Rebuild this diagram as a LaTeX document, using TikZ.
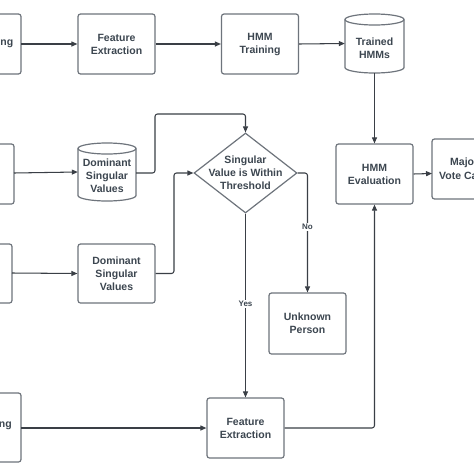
\documentclass[tikz,border=0pt]{standalone}
\usepackage{fontspec}
\setmainfont{Liberation Sans}
\usetikzlibrary{arrows.meta,shapes.geometric}
\definecolor{boxc}{HTML}{6E747C}
\definecolor{txtc}{HTML}{3C4650}
\definecolor{linec}{HTML}{3A3F46}
\tikzset{
  box/.style={draw=boxc, line width=1.2pt, rounded corners=2.5pt, minimum width=77pt, minimum height=60pt, inner sep=0pt, align=center, text=txtc, font=\fontsize{10.5}{13}\selectfont\bfseries},
  lbl/.style={text=txtc, font=\fontsize{10.5}{13}\selectfont\bfseries, align=center, inner sep=0pt},
  small/.style={text=txtc, font=\fontsize{8}{9}\selectfont\bfseries, fill=white, inner sep=1pt},
  conn/.style={draw=linec, line width=1.05pt, rounded corners=2.5pt, -{Triangle[length=6pt,width=5pt]}},
  cyl/.style={draw=boxc, line width=1.2pt},
  diam/.style={draw=boxc, line width=1.2pt, diamond, shape aspect=1.2875, minimum width=103pt, minimum height=80pt, inner sep=0pt},
}
\begin{document}
\begin{tikzpicture}[x=1pt,y=-1pt]
\clip (0,0) rectangle (474,474);
\fill[white] (0,0) rectangle (474,474);
% partial left boxes
\draw[box] (-60,14) rectangle (21,74);
\node[lbl, anchor=east] (t1) at (13.5,44) {ng};
\coordinate (l1) at (21,44);
\draw[box] (-60,144) rectangle (14,204);
\coordinate (l2) at (14,173);
\draw[box] (-60,244) rectangle (12,303);
\coordinate (l3) at (12,273);
\draw[box] (-60,393) rectangle (21,462);
\node[lbl, anchor=east] (t4) at (12,426) {ng};
\coordinate (l4) at (21,428);
% majority partial box
\draw[box] (432,139) rectangle (520,199);
\node[lbl, anchor=west] (maj1) at (450,163) {Majo};
\node[lbl, anchor=west] (maj2) at (439,176) {Vote Ca};
\coordinate (maj) at (432,173.5);
% boxes
\node[box] (fe1) at (116.5,44) {Feature\\Extraction};
\node[box] (hmmt) at (260,44) {HMM\\Training};
\node[box] (hmme) at (374.5,174) {HMM\\Evaluation};
\node[box, minimum height=59pt] (dsv2) at (116.5,273.5) {Dominant\\Singular\\Values};
\node[box, minimum height=61pt] (unk) at (307.5,323.5) {Unknown\\Person};
\node[box] (fe2) at (245.5,428) {Feature\\Extraction};
% cylinders
\node[minimum width=59pt, minimum height=59pt, inner sep=0pt] (thmm) at (374.5,43.5) {};
\draw[cyl] (345,19.5) -- (345,67.5) arc[start angle=180, end angle=360, x radius=29.5, y radius=-5.5] -- (404,19.5);
\draw[cyl] (374.5,19.5) ellipse[x radius=29.5, y radius=5.5];
\node[lbl] (thmmt) at (374.5,48.5) {Trained\\HMMs};
\node[minimum width=58pt, minimum height=58pt, inner sep=0pt] (dsv1) at (107,172) {};
\draw[cyl] (78,148.5) -- (78,195.5) arc[start angle=180, end angle=360, x radius=29, y radius=-5.5] -- (136,148.5);
\draw[cyl] (107,148.5) ellipse[x radius=29, y radius=5.5];
\node[lbl] (dsv1t) at (107,176) {Dominant\\Singular\\Values};
% diamond
\node[diam] (dec) at (245.5,173) {};
\node[lbl] (dect) at (245.5,173) {Singular\\Value is Within\\Threshold};
% connectors
\draw[conn] (l1) -- (fe1.west);
\draw[conn] (fe1.east) -- (hmmt.west);
\draw[conn] (hmmt.east) -- (thmm.west);
\draw[conn] (thmm.south) -- (hmme.north);
\draw[conn] (hmme.east) -- (maj);
\draw[conn] (l2) -- (dsv1.west);
\draw[conn] (dsv1.east |- 0,173) -- (155,173) -- (155,114) -- (245.5,114) -- (dec.north);
\draw[conn] (l3) -- (dsv2.west);
\draw[conn] (dsv2.east) -- (174,273.5) -- (174,173) -- (dec.west);
\draw[conn] (dec.east) -- (307.5,173) -- (unk.north);
\node[small] (no) at (307.5,227) {No};
\draw[conn] (dec.south) -- (fe2.north);
\node[small] (yes) at (245.5,304) {Yes};
\draw[conn] (l4) -- (fe2.west);
\draw[conn] (fe2.east) -- (374.5,428) -- (hmme.south);
\end{tikzpicture}
\end{document}
